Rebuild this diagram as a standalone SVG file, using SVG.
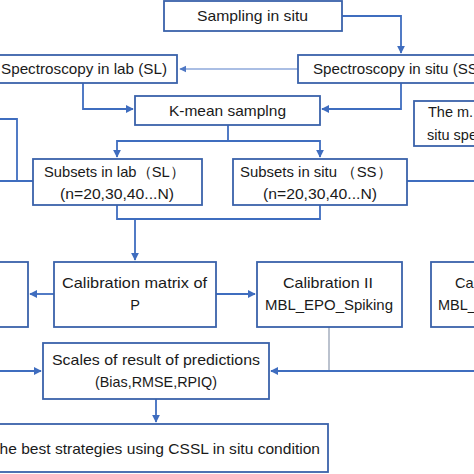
<svg xmlns="http://www.w3.org/2000/svg" width="474" height="474" viewBox="0 0 474 474">
<defs>
<marker id="ah" viewBox="0 0 10 10" refX="9" refY="5" markerWidth="4.5" markerHeight="4.5" orient="auto" markerUnits="strokeWidth">
<path d="M0,0 L10,5 L0,10 z" fill="#3F6DBF"/>
</marker>
<marker id="ahl" viewBox="0 0 10 10" refX="9" refY="5" markerWidth="4.5" markerHeight="4.5" orient="auto" markerUnits="strokeWidth">
<path d="M0,0 L10,5 L0,10 z" fill="#4F78C4"/>
</marker>
</defs>
<style>
.box{fill:#fff;stroke:#3A62AA;stroke-width:1.8}
.t{font-family:"Liberation Sans",Arial,sans-serif;font-size:14.5px;fill:#1a1a1a}
.c{fill:none;stroke:#3F6DBF;stroke-width:1.8}
.cl{fill:none;stroke:#8EA9DB;stroke-width:1.6}
.cg{fill:none;stroke:#AAB3C2;stroke-width:1.6}
</style>
<rect width="474" height="474" fill="#fff"/>
<g id="connectors">
<path class="c" d="M342,16 H401 V53" marker-end="url(#ah)"/>
<path class="cl" d="M298,69 H180" marker-end="url(#ahl)"/>
<path class="c" d="M83,83 V109 H133" marker-end="url(#ah)"/>
<path class="c" d="M401,83 V109 H322" marker-end="url(#ah)"/>
<path class="c" d="M228,125 V141 H117 V157" marker-end="url(#ah)"/>
<path class="c" d="M228,141 H320 V157" marker-end="url(#ah)"/>
<path class="c" d="M0,119 H17 V181 M0,181 H33"/>
<path class="c" d="M407,181 H474"/>
<path class="c" d="M117,205 V219 H320 V205"/>
<path class="c" d="M135,219 V260" marker-end="url(#ah)"/>
<path class="c" d="M54,294 H30" marker-end="url(#ah)"/>
<path class="c" d="M216,294 H255" marker-end="url(#ah)"/>
<path class="cg" d="M329,327 V371"/>
<path class="c" d="M0,371 H41" marker-end="url(#ah)"/>
<path class="c" d="M474,371 H271" marker-end="url(#ah)"/>
<path class="c" d="M156,399 V422" marker-end="url(#ah)"/>
</g>
<g id="n1"><rect class="box" x="164" y="1" width="178" height="30"/><text class="t" x="252.5" y="21" text-anchor="middle" textLength="111" lengthAdjust="spacingAndGlyphs">Sampling in situ</text></g>
<g id="n2"><rect class="box" x="-10" y="55" width="187" height="28"/><text class="t" x="1" y="74" textLength="166" lengthAdjust="spacingAndGlyphs">Spectroscopy in lab (SL)</text></g>
<g id="n3"><rect class="box" x="298" y="55" width="190" height="28"/><text class="t" x="313" y="74" textLength="170" lengthAdjust="spacingAndGlyphs">Spectroscopy  in situ (SS)</text></g>
<g id="n4"><rect class="box" x="135" y="96" width="185" height="29"/><text class="t" x="227.5" y="116" text-anchor="middle" textLength="117" lengthAdjust="spacingAndGlyphs">K-mean samplng</text></g>
<g id="n5"><rect class="box" x="414" y="101" width="80" height="45"/><text class="t" x="428" y="117">The m.</text><text class="t" x="427" y="140">situ spectra</text></g>
<g id="n6"><rect class="box" x="33" y="159" width="169" height="46"/><text class="t" x="44" y="177" textLength="141" lengthAdjust="spacingAndGlyphs">Subsets in lab（SL）</text><text class="t" x="60" y="199" textLength="114" lengthAdjust="spacingAndGlyphs">(n=20,30,40...N)</text></g>
<g id="n7"><rect class="box" x="233" y="159" width="174" height="46"/><text class="t" x="240" y="177" textLength="152" lengthAdjust="spacingAndGlyphs">Subsets  in situ （SS）</text><text class="t" x="263" y="199" textLength="114" lengthAdjust="spacingAndGlyphs">(n=20,30,40...N)</text></g>
<g id="n8"><rect class="box" x="-10" y="262" width="38" height="65"/></g>
<g id="n9"><rect class="box" x="54" y="262" width="162" height="65"/><text class="t" x="134.5" y="288" text-anchor="middle" textLength="145" lengthAdjust="spacingAndGlyphs">Calibration matrix of</text><text class="t" x="135" y="310" text-anchor="middle">P</text></g>
<g id="n10"><rect class="box" x="257" y="262" width="145" height="65"/><text class="t" x="328" y="288" text-anchor="middle" textLength="90" lengthAdjust="spacingAndGlyphs">Calibration II</text><text class="t" x="329" y="310" text-anchor="middle" textLength="128" lengthAdjust="spacingAndGlyphs">MBL_EPO_Spiking</text></g>
<g id="n11"><rect class="box" x="431" y="262" width="80" height="65"/><text class="t" x="455" y="288">Calibration III</text><text class="t" x="438" y="310">MBL_EPO</text></g>
<g id="n12"><rect class="box" x="43" y="343" width="226" height="56"/><text class="t" x="156" y="365" text-anchor="middle" textLength="208" lengthAdjust="spacingAndGlyphs">Scales of result of predictions</text><text class="t" x="156" y="387" text-anchor="middle" textLength="122" lengthAdjust="spacingAndGlyphs">(Bias,RMSE,RPIQ)</text></g>
<g id="n13"><rect class="box" x="-10" y="424" width="338" height="48"/><text class="t" x="-10" y="454" textLength="330" lengthAdjust="spacingAndGlyphs">The best strategies using CSSL in situ condition</text></g>
</svg>
